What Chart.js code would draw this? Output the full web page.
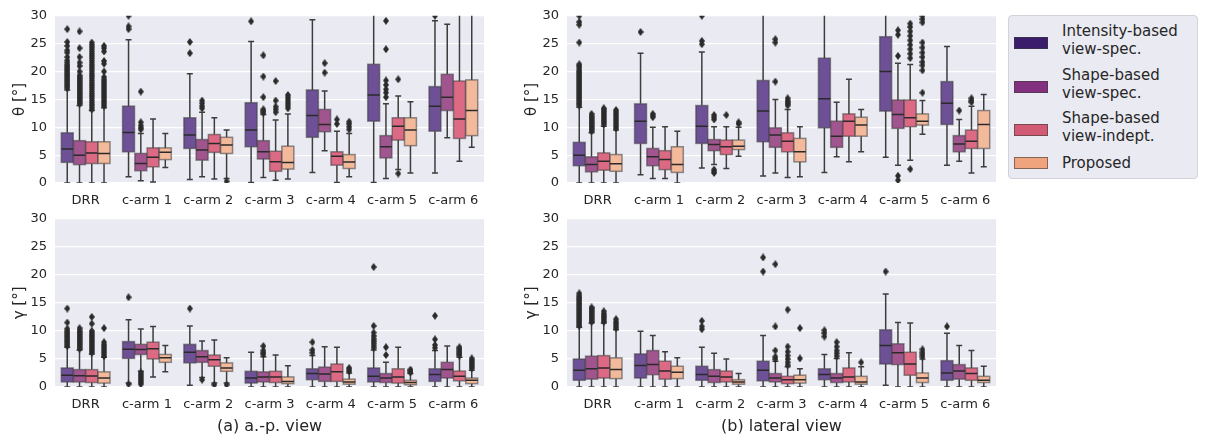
<!DOCTYPE html>
<html>
<head>
<meta charset="utf-8">
<script src="https://cdn.jsdelivr.net/npm/chart.js@4.4.0/dist/chart.umd.min.js"></script>
<style>
  body { margin: 0; width: 1207px; height: 446px; overflow: hidden; position: relative; background: #fff;
         font-family: "DejaVu Sans", sans-serif; color: #262626; }
  .panel { position: absolute; }
  #legend { position: absolute; left: 1008px; top: 15px; width: 190px; height: 164px; box-sizing: border-box;
            background: #eaeaf2; border: 1px solid #d2d2da; border-radius: 4px; }
  .patch { position: absolute; left: 1014px; width: 34px; height: 12px; box-sizing: border-box;
           border: 1px solid rgba(60,60,60,0.6); }
  .label { position: absolute; left: 1062px; font-size: 15px; line-height: 18px; white-space: nowrap; }
</style>
</head>
<body>
<div class="panel" style="left:0;top:0"><canvas id="apTop" width="489" height="205"></canvas></div>
<div class="panel" style="left:512px;top:0"><canvas id="bpTop" width="489" height="205"></canvas></div>
<div class="panel" style="left:0;top:203px"><canvas id="apBot" width="489" height="243"></canvas></div>
<div class="panel" style="left:512px;top:203px"><canvas id="bpBot" width="489" height="243"></canvas></div>
<div id="legend"></div>
<div id="legendItems"></div>
<script>
const groups = ["DRR", "c-arm 1", "c-arm 2", "c-arm 3", "c-arm 4", "c-arm 5", "c-arm 6"];
const methods = ["Intensity-based view-spec.", "Shape-based view-spec.", "Shape-based view-indept.", "Proposed"];
const methodLines = [["Intensity-based", "view-spec."], ["Shape-based", "view-spec."], ["Shape-based", "view-indept."], ["Proposed"]];
const legendColors = ["#3b1b6b", "#82307f", "#d15a74", "#f0a47e"];
const boxColors = ["#6e5096", "#a0558f", "#dc6a84", "#f3b99b"];
const yTicks = [0, 5, 10, 15, 20, 25, 30];

// each box: [low whisker, q1, median, q3, high whisker]
const apTheta = [
  [[0, 3.7, 6.1, 9.0, 16.7], [0, 3.3, 5.0, 7.6, 13.9], [0, 3.5, 5.4, 7.4, 13.0], [0, 3.5, 5.3, 7.4, 13.5]],
  [[1.1, 5.6, 9.05, 13.8, 25.7], [0.4, 2.2, 3.5, 5.3, 8.9], [0.2, 2.9, 4.6, 6.3, 11.5], [2.8, 4.2, 5.5, 6.3, 8.9]],
  [[0.65, 6.2, 8.6, 11.7, 19.6], [1.1, 4.1, 5.9, 7.8, 12.7], [0.7, 5.5, 7.1, 8.7, 11.7], [0.8, 5.3, 6.8, 8.2, 9.5]],
  [[0.1, 6.5, 9.5, 14.4, 25.4], [1.0, 4.3, 5.6, 7.6, 12.3], [0.5, 2.1, 3.8, 5.7, 11.3], [0.7, 2.5, 3.7, 6.6, 12.4]],
  [[1.9, 8.2, 12.1, 16.7, 29.3], [5.8, 9.2, 10.5, 13.2, 16.5], [0.1, 3.2, 4.8, 5.6, 9.3], [1.1, 2.6, 3.75, 5.1, 8.9]],
  [[0.1, 11.1, 15.8, 21.3, 34], [0.8, 4.5, 6.5, 8.5, 14.2], [2.4, 7.7, 10.2, 11.7, 15.6], [1.8, 6.7, 9.5, 11.7, 14.6]],
  [[1.8, 9.3, 13.75, 17.3, 29.1], [8.1, 13.0, 15.4, 19.5, 28.5], [3.9, 8.0, 11.5, 18.3, 35], [6.4, 8.5, 13.0, 18.5, 34]]
];
const apThetaOut = [
  [[17.0, 17.3, 17.6, 17.9, 18.2, 18.5, 18.8, 19.1, 19.4, 19.7, 20.0, 20.3, 20.6, 20.9, 21.2, 21.6, 22.0, 22.6, 23.4, 23.8, 24.6, 25.3, 27.6],
   [14.2, 14.5, 14.8, 15.1, 15.4, 15.7, 16.0, 16.3, 16.6, 16.9, 17.2, 17.5, 17.8, 18.1, 18.4, 18.7, 19.0, 19.3, 20.0, 21.0, 21.6, 22.6, 24.2, 27.2],
   [13.2, 13.6, 14.0, 14.4, 14.8, 15.2, 15.6, 16.0, 16.4, 16.8, 17.2, 17.6, 18.0, 18.4, 18.8, 19.2, 19.6, 20.0, 20.4, 20.8, 21.2, 21.6, 22.0, 22.4, 22.8, 23.2, 23.6, 24.0, 24.4, 24.8, 25.2],
   [13.8, 14.1, 14.4, 14.7, 15.0, 15.3, 15.6, 15.9, 16.2, 16.5, 16.8, 17.1, 17.4, 17.7, 18.0, 18.3, 18.6, 19.0, 20.0, 21.4, 21.9, 23.6, 24.2, 24.6]],
  [[27.6, 28.1, 30.0], [9.6, 9.9, 10.3, 10.9, 16.4], [], []],
  [[23.3, 25.3], [13.4, 13.8, 14.3, 14.8], [], [0.3]],
  [[29.0], [12.6, 12.9, 13.2, 15.4, 19.1, 22.9], [12.7, 13.2, 13.7, 14.8, 18.3], [13.4, 13.8, 14.2, 14.6, 15.0, 15.4, 15.8]],
  [[], [19.8, 21.5], [10.6, 11.4], [9.6, 10.1, 10.6, 11.0]],
  [[], [15.4, 16.2, 16.8, 17.6, 18.4, 24.0, 29.1], [1.7, 18.6], []],
  [[30.0], [], [], []]
];

const bpTheta = [
  [[0, 3.1, 5.0, 7.3, 13.6], [0, 2.0, 3.3, 4.7, 9.0], [0, 2.3, 3.9, 5.4, 10.2], [0, 2.1, 3.45, 5.1, 9.5]],
  [[1.5, 7.1, 11.1, 14.2, 23.3], [0.8, 3.1, 4.7, 6.2, 10.0], [0.8, 2.4, 4.2, 5.8, 10.1], [0, 1.9, 3.3, 6.5, 9.3]],
  [[2.7, 7.1, 10.2, 13.9, 23.5], [3.3, 5.8, 6.9, 7.8, 10.1], [2.6, 5.1, 6.5, 7.7, 10.1], [4.8, 6.0, 6.6, 7.7, 10.0]],
  [[1.25, 7.4, 12.9, 18.4, 33], [1.8, 6.4, 8.6, 9.9, 15.0], [1.0, 5.6, 7.5, 9.0, 13.2], [1.1, 3.8, 5.6, 8.0, 10.1]],
  [[1.9, 9.9, 15.1, 22.4, 33], [4.7, 6.4, 8.4, 11.1, 14.5], [3.8, 8.4, 11.1, 12.4, 18.6], [5.6, 8.4, 10.4, 11.8, 13.2]],
  [[4.6, 12.9, 20.0, 26.25, 33], [3.2, 9.8, 12.3, 14.9, 21.5], [4.1, 10.1, 11.7, 14.9, 21.25], [8.75, 10.4, 11.1, 12.4, 14.8]],
  [[3.2, 10.5, 14.3, 18.2, 24.5], [3.9, 5.6, 7.0, 8.5, 11.4], [1.8, 6.2, 7.5, 9.5, 13.75], [2.9, 6.2, 10.5, 13.0, 15.9]]
];
const bpThetaOut = [
  [[13.9, 14.2, 14.5, 14.8, 15.1, 15.4, 15.7, 16.0, 16.3, 16.6, 16.9, 17.2, 17.5, 17.8, 18.1, 18.4, 18.7, 19.0, 19.3, 19.6, 19.9, 20.2, 20.6, 21.0, 21.3, 25.2, 28.4, 28.9, 30.0],
   [9.3, 9.6, 9.9, 10.2, 10.5, 10.8, 11.1, 11.4, 11.7, 12.0, 12.4],
   [10.5, 10.8, 11.1, 11.4, 11.7, 12.0, 12.3, 12.6, 12.9, 13.2, 13.4],
   [9.8, 10.1, 10.4, 10.7, 11.0, 11.3, 11.6, 11.9, 12.2, 12.5, 12.8, 13.1]],
  [[27.1], [11.8, 12.1, 12.4], [], []],
  [[24.9, 25.5, 30.0], [1.8, 2.1, 2.4, 11.4, 11.8, 12.2], [12.2], [10.6, 10.9]],
  [[], [18.2, 25.2, 25.8], [13.9, 14.2, 14.5, 14.8, 15.2], []],
  [[], [], [], []],
  [[], [0.5, 1.3, 22.8, 26.6, 27.4], [2.5, 22.4, 23.2, 24.0, 24.8, 25.6, 26.4, 27.2, 28.0, 28.6],
   [16.2, 20.2, 21.1, 21.7, 22.6, 23.4, 24.3, 25.2, 28.8, 29.4, 30.0]],
  [[], [13.0], [14.5, 14.8, 15.2], []]
];

const apGamma = [
  [[0, 0.9, 2.1, 3.4, 7.1], [0, 0.9, 2.0, 3.1, 6.6], [0, 0.8, 1.95, 3.1, 5.9], [0, 0.7, 1.6, 2.7, 5.3]],
  [[0.7, 5.1, 6.75, 8.1, 12.0], [2.8, 5.8, 6.7, 7.6, 10.35], [1.8, 5.0, 6.8, 8.0, 10.8], [2.7, 4.4, 5.2, 5.8, 7.4]],
  [[0.3, 4.3, 6.2, 7.6, 10.9], [1.7, 4.4, 5.4, 6.5, 8.2], [0.7, 3.7, 4.85, 5.7, 8.4], [0.7, 2.8, 3.4, 4.3, 5.2]],
  [[0, 0.7, 1.6, 2.8, 6.2], [0, 0.9, 1.8, 2.7, 5.4], [0, 0.8, 1.8, 2.8, 5.7], [0, 0.6, 1.0, 1.8, 3.8]],
  [[0, 1.3, 2.4, 3.25, 5.6], [0, 1.0, 2.3, 3.55, 7.2], [0, 1.0, 2.7, 4.1, 7.1], [0, 0.5, 0.9, 1.4, 2.5]],
  [[0, 0.9, 1.9, 3.4, 6.6], [0, 0.8, 1.6, 2.4, 4.4], [0, 0.7, 1.8, 3.25, 7.1], [0, 0.4, 0.8, 1.2, 2.4]],
  [[0, 1.0, 2.25, 3.25, 6.5], [0, 1.6, 3.1, 4.4, 7.3], [0, 1.1, 1.9, 2.85, 5.3], [0, 0.6, 1.2, 1.6, 3.0]]
];
const apGammaOut = [
  [[7.3, 7.6, 7.9, 8.2, 8.5, 8.8, 9.1, 9.4, 9.7, 10.0, 10.4, 11.5, 14.0],
   [6.8, 7.1, 7.4, 7.7, 8.0, 8.3, 8.6, 8.9, 9.2, 9.5, 9.8, 10.1, 10.5],
   [6.1, 6.4, 6.7, 7.0, 7.3, 7.6, 7.9, 8.2, 8.5, 8.8, 9.1, 9.4, 9.7, 10.0, 11.3, 12.5],
   [5.5, 5.8, 6.1, 6.4, 6.7, 7.0, 7.3, 7.6, 8.0, 10.5]],
  [[0.5, 16.0], [0.5, 0.8, 1.1, 1.4, 1.7, 2.0, 2.3, 2.6], [], []],
  [[14.0], [1.3], [0.4], [0.4]],
  [[], [5.8, 6.1, 6.5, 7.3], [], []],
  [[6.1, 6.6, 8.0], [], [], [2.8, 3.1, 3.4]],
  [[7.0, 7.4, 7.8, 8.2, 8.6, 9.1, 9.7, 10.9, 21.4], [5.7, 7.1], [], [2.6, 2.9, 3.1]],
  [[7.0, 7.5, 8.5, 12.7], [], [5.6, 5.9, 6.2, 6.5, 6.8, 7.1], [3.3, 3.6, 3.9, 4.2, 4.5, 4.8, 5.1]]
];

const bpGamma = [
  [[0, 1.2, 3.0, 5.0, 10.65], [0, 1.4, 3.25, 5.5, 11.4], [0, 1.6, 3.4, 5.6, 11.4], [0, 1.5, 3.1, 5.2, 10.2]],
  [[0, 1.6, 3.85, 5.9, 9.95], [0, 2.2, 4.0, 6.5, 9.2], [0, 1.4, 2.85, 4.6, 6.3], [0, 1.5, 2.65, 3.7, 5.2]],
  [[0, 1.2, 2.25, 3.7, 7.1], [0, 0.8, 1.9, 3.1, 6.0], [0, 0.9, 1.8, 2.85, 5.0], [0, 0.5, 0.9, 1.3, 2.4]],
  [[0, 1.1, 3.0, 4.6, 9.2], [0, 0.9, 1.6, 2.4, 4.6], [0, 0.6, 1.3, 1.9, 3.6], [0, 0.7, 1.3, 2.1, 3.25]],
  [[0, 1.3, 2.25, 3.25, 5.8], [0, 0.8, 1.6, 2.4, 5.1], [0, 0.9, 1.8, 3.4, 6.1], [0, 0.5, 0.9, 1.9, 3.6]],
  [[0.3, 4.1, 7.4, 10.2, 16.6], [0, 4.0, 6.1, 7.7, 11.5], [0, 2.1, 4.1, 6.2, 11.4], [0, 0.8, 1.6, 2.5, 5.0]],
  [[0, 1.2, 2.5, 4.7, 9.6], [0, 1.4, 2.85, 4.0, 7.4], [0, 1.2, 2.4, 3.4, 6.5], [0, 0.8, 1.2, 1.9, 3.7]]
];
const bpGammaOut = [
  [[10.9, 11.2, 11.5, 11.8, 12.1, 12.4, 12.7, 13.0, 13.3, 13.6, 13.9, 14.2, 14.5, 14.8, 15.1, 15.4, 15.7, 16.0, 16.3, 16.7],
   [11.6, 11.9, 12.2, 12.5, 12.8, 13.1, 13.4, 13.7, 14.0, 14.2],
   [11.6, 11.9, 12.2, 12.5, 12.8, 13.1, 13.5],
   [10.5, 10.8, 11.1, 11.4, 11.7, 12.1]],
  [[], [], [], []],
  [[10.3, 10.8, 11.8], [], [], []],
  [[20.6, 23.1], [5.0, 5.4, 6.5, 10.8, 21.9], [3.9, 4.4, 5.0, 5.6, 6.3, 7.2, 13.8], [5.1, 10.5]],
  [[9.0, 9.6, 10.1], [5.5, 6.0, 6.5, 7.2, 8.0], [], [4.4]],
  [[20.6], [], [], [5.4, 5.8, 6.2, 6.7]],
  [[10.8], [], [], []]
];

const offsets = [-0.3, -0.1, 0.1, 0.3];
const boxWidth = 0.195;
const textColor = "#262626";

// thin diamond used for the fliers
const diamond = document.createElement("canvas");
diamond.width = 6;
diamond.height = 8;
(() => {
  const c = diamond.getContext("2d");
  c.fillStyle = "#2b2b2b";
  c.beginPath();
  c.moveTo(3, 0); c.lineTo(6, 4); c.lineTo(3, 8); c.lineTo(0, 4);
  c.closePath();
  c.fill();
})();

function boxLayer(stats) {
  return {
    id: "boxLayer",
    beforeDraw(chart) {
      const { ctx, chartArea: a } = chart;
      ctx.save();
      ctx.fillStyle = "#eaeaf2";
      ctx.fillRect(a.left, a.top, a.width, a.height);
      ctx.restore();
    },
    beforeDatasetsDraw(chart) {
      const { ctx, chartArea: a, scales: { x, y } } = chart;
      ctx.save();
      ctx.beginPath();
      ctx.rect(a.left, a.top, a.width, a.height);
      ctx.clip();
      stats.forEach((row, g) => row.forEach(([lo, q1, med, q3, hi], m) => {
        const cx = x.getPixelForValue(g + offsets[m]);
        const half = x.getPixelForValue(g + offsets[m] + boxWidth / 2) - cx;
        const cap = half / 2;
        ctx.lineWidth = 1.5;
        ctx.strokeStyle = "#3d3d3d";
        ctx.beginPath();
        ctx.moveTo(cx, y.getPixelForValue(hi)); ctx.lineTo(cx, y.getPixelForValue(q3));
        ctx.moveTo(cx, y.getPixelForValue(q1)); ctx.lineTo(cx, y.getPixelForValue(lo));
        ctx.moveTo(cx - cap, y.getPixelForValue(hi)); ctx.lineTo(cx + cap, y.getPixelForValue(hi));
        ctx.moveTo(cx - cap, y.getPixelForValue(lo)); ctx.lineTo(cx + cap, y.getPixelForValue(lo));
        ctx.stroke();
        const top = y.getPixelForValue(q3);
        const bottom = y.getPixelForValue(q1);
        ctx.fillStyle = boxColors[m];
        ctx.fillRect(cx - half, top, 2 * half, bottom - top);
        ctx.strokeStyle = "rgba(60,60,60,0.55)";
        ctx.strokeRect(cx - half, top, 2 * half, bottom - top);
        ctx.strokeStyle = "#2a2a2a";
        ctx.beginPath();
        ctx.moveTo(cx - half, y.getPixelForValue(med));
        ctx.lineTo(cx + half, y.getPixelForValue(med));
        ctx.stroke();
      }));
      ctx.restore();
    }
  };
}

function makePanel(id, stats, fliers, yTitle, caption) {
  const datasets = methods.map((name, m) => ({
    label: name,
    data: fliers.flatMap((grp, g) => grp[m].map((v) => ({ x: g + offsets[m], y: v }))),
    pointStyle: diamond,
    pointRadius: 3,
    clip: 0
  }));
  new Chart(document.getElementById(id), {
    type: "scatter",
    data: { datasets },
    plugins: [boxLayer(stats)],
    options: {
      responsive: false,
      animation: false,
      events: [],
      layout: { padding: { top: 15, right: 1.5, left: 0, bottom: 0 } },
      plugins: { legend: { display: false }, tooltip: { enabled: false } },
      scales: {
        x: {
          type: "linear",
          min: -0.5,
          max: 6.5,
          afterBuildTicks: (s) => { s.ticks = groups.map((_, i) => ({ value: i })); },
          afterFit: (s) => { s.height = caption ? 59 : 22; },
          ticks: { callback: (v) => groups[v], color: textColor, font: { family: "DejaVu Sans", size: 13 }, padding: 2, maxRotation: 0, autoSkip: false },
          grid: { display: false },
          border: { display: false },
          title: caption ? { display: true, text: caption, color: textColor, font: { family: "DejaVu Sans", size: 16 }, padding: { top: 0, bottom: 10 } } : { display: false }
        },
        y: {
          min: 0,
          max: 30,
          afterBuildTicks: (s) => { s.ticks = yTicks.map((v) => ({ value: v })); },
          afterFit: (s) => { s.width = 55; },
          ticks: { color: textColor, font: { family: "DejaVu Sans", size: 13 }, padding: 8 },
          grid: { color: "#ffffff", lineWidth: 1.2, drawTicks: false },
          border: { display: false },
          title: { display: true, text: yTitle, color: textColor, font: { family: "DejaVu Sans", size: 15 }, padding: { top: 11, bottom: 0 } }
        }
      }
    }
  });
}

makePanel("apTop", apTheta, apThetaOut, "θ [°]", null);
makePanel("bpTop", bpTheta, bpThetaOut, "θ [°]", null);
makePanel("apBot", apGamma, apGammaOut, "γ [°]", "(a) a.-p. view");
makePanel("bpBot", bpGamma, bpGammaOut, "γ [°]", "(b) lateral view");

// legend
const patchTops = [37, 81, 124, 157];
const labelTops = [22, 66, 109, 154];
const items = document.getElementById("legendItems");
methods.forEach((name, m) => {
  const patch = document.createElement("div");
  patch.className = "patch";
  patch.style.top = patchTops[m] + "px";
  patch.style.background = legendColors[m];
  items.appendChild(patch);
  const label = document.createElement("div");
  label.className = "label";
  label.style.top = labelTops[m] + "px";
  label.innerHTML = methodLines[m].join("<br>");
  items.appendChild(label);
});
</script>
</body>
</html>
